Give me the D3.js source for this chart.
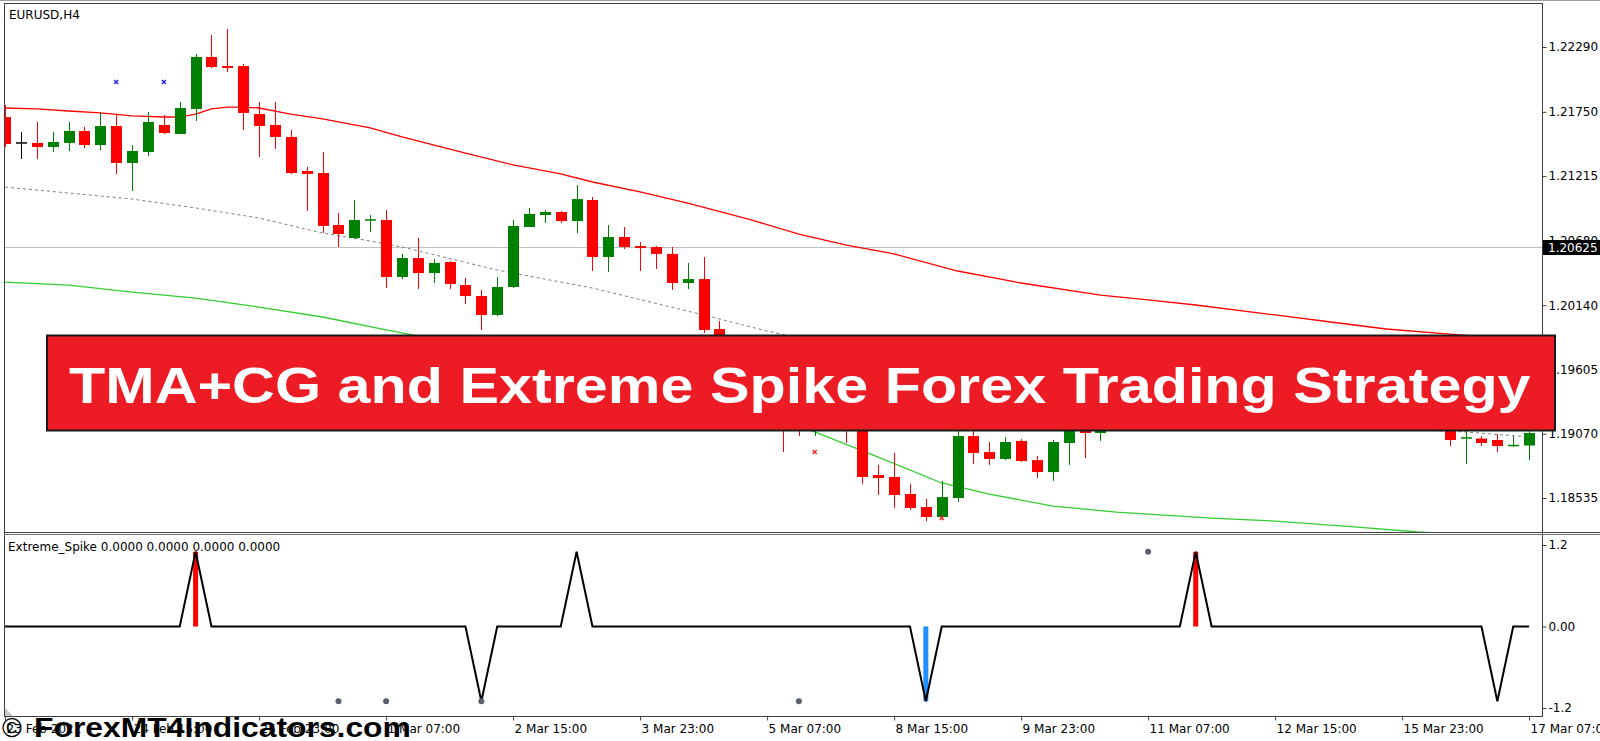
<!DOCTYPE html>
<html><head><meta charset="utf-8">
<script src="https://cdn.jsdelivr.net/npm/d3@7"></script>
<style>html,body{margin:0;padding:0;background:#fff;overflow:hidden}</style>
</head><body>
<svg id="c" width="1600" height="741"></svg>
<script>
// ---------------- DATA ----------------
const symbolTitle = "EURUSD,H4";
const indicatorTitle = "Extreme_Spike 0.0000 0.0000 0.0000 0.0000";
const bannerText = "TMA+CG and Extreme Spike Forex Trading Strategy";
const watermarkSymbol = "©";
const watermarkText = "ForexMT4Indicators.com";

// H4 candles, one entry per bar (bar index = position in array)
const opens = [1.21707,1.21491,1.21491,1.21457,1.21491,1.21591,1.21474,1.21632,1.21324,1.21416,
 1.21641,1.21566,1.21774,1.22207,1.22132,1.22132,1.21732,1.21641,1.21541,1.21258,
 1.21241,1.20808,1.20700,1.20841,1.20850,1.20375,1.20533,1.20408,1.20500,1.20308,
 1.20217,1.20059,1.20292,1.20791,1.20891,1.20916,1.20841,1.21016,1.20542,1.20708,
 1.20633,1.20625,1.20567,1.20325,1.20358,1.19942,1.19809,1.19517,1.19642,1.19351,
 1.19201,1.19143,1.19268,1.19309,1.19118,1.18726,1.18710,1.18568,1.18460,1.18377,
 1.18535,1.19051,1.18918,1.18860,1.19010,1.18851,1.18751,1.18993,1.19184,1.19076,
 1.19143,1.19260,1.19420,1.19360,1.19600,1.19720,1.19620,1.19490,1.19560,1.19410,
 1.19340,1.19420,1.19390,1.19480,1.19360,1.19280,1.19340,1.19250,1.19190,1.19240,
 1.19180,1.19093,1.19026,1.19030,1.19018,1.18965,1.18972];
const highs = [1.21807,1.21582,1.21666,1.21582,1.21666,1.21624,1.21749,1.21732,1.21474,1.21749,
 1.21724,1.21832,1.22232,1.22390,1.22440,1.22148,1.21832,1.21832,1.21599,1.21291,
 1.21416,1.20908,1.21016,1.20891,1.20933,1.20567,1.20700,1.20525,1.20508,1.20367,
 1.20267,1.20375,1.20850,1.20950,1.20933,1.20925,1.21141,1.21041,1.20808,1.20791,
 1.20666,1.20633,1.20625,1.20492,1.20542,1.20009,1.19867,1.19684,1.19701,1.19393,
 1.19309,1.19351,1.19334,1.19368,1.19184,1.18810,1.18910,1.18652,1.18527,1.18677,
 1.19143,1.19143,1.19001,1.19043,1.19026,1.18885,1.19018,1.19268,1.19251,1.19226,
 1.19300,1.19480,1.19500,1.19640,1.19780,1.19870,1.19680,1.19600,1.19620,1.19470,
 1.19450,1.19480,1.19520,1.19540,1.19410,1.19380,1.19390,1.19300,1.19290,1.19280,
 1.19230,1.19150,1.19093,1.19051,1.19068,1.19051,1.19093];
const lows = [1.21457,1.21357,1.21357,1.21416,1.21424,1.21449,1.21432,1.21233,1.21091,1.21382,
 1.21566,1.21566,1.21674,1.22115,1.22082,1.21599,1.21374,1.21441,1.21233,1.20925,
 1.20741,1.20625,1.20691,1.20750,1.20283,1.20358,1.20275,1.20325,1.20275,1.20150,
 1.19934,1.20050,1.20283,1.20791,1.20825,1.20825,1.20741,1.20425,1.20417,1.20608,
 1.20425,1.20442,1.20267,1.20275,1.19909,1.19751,1.19476,1.19418,1.19184,1.18918,
 1.19051,1.19051,1.19118,1.18993,1.18652,1.18560,1.18452,1.18435,1.18343,1.18377,
 1.18502,1.18818,1.18810,1.18851,1.18835,1.18701,1.18677,1.18810,1.18868,1.19010,
 1.19110,1.19220,1.19330,1.19340,1.19560,1.19580,1.19450,1.19420,1.19380,1.19300,
 1.19310,1.19360,1.19350,1.19330,1.19250,1.19240,1.19220,1.19160,1.19170,1.19150,
 1.19120,1.18968,1.18818,1.18968,1.18918,1.18960,1.18851];
const closes = [1.21482,1.21491,1.21457,1.21499,1.21591,1.21474,1.21632,1.21324,1.21424,1.21666,
 1.21574,1.21782,1.22207,1.22123,1.22115,1.21741,1.21632,1.21541,1.21241,1.21233,
 1.20800,1.20733,1.20850,1.20850,1.20375,1.20533,1.20408,1.20492,1.20317,1.20217,
 1.20059,1.20292,1.20800,1.20900,1.20916,1.20841,1.21024,1.20542,1.20708,1.20625,
 1.20616,1.20567,1.20325,1.20358,1.19934,1.19809,1.19517,1.19642,1.19351,1.19143,
 1.19151,1.19268,1.19184,1.19118,1.18710,1.18701,1.18560,1.18452,1.18377,1.18543,
 1.19051,1.18910,1.18860,1.19001,1.18843,1.18751,1.19001,1.19184,1.19076,1.19143,
 1.19260,1.19420,1.19360,1.19600,1.19720,1.19620,1.19490,1.19560,1.19410,1.19340,
 1.19420,1.19390,1.19480,1.19360,1.19280,1.19340,1.19250,1.19190,1.19240,1.19180,
 1.19140,1.19018,1.19035,1.18993,1.18968,1.18972,1.19076];

// TMA+CG bands: [bar index, price]
const tmaUpper = [[0,1.21782],[2,1.21774],[4,1.21757],[6,1.21741],[8,1.21716],[10,1.21707],[11,1.21707],
 [12,1.21732],[13,1.21774],[14,1.21790],[15,1.21790],[16,1.21782],[17,1.21757],[18,1.21732],[20,1.21691],
 [23,1.21616],[25,1.21541],[29,1.21407],[32,1.21308],[35,1.21233],[37,1.21166],[40,1.21083],[43,1.20991],
 [47,1.20850],[50,1.20733],[53,1.20641],[56,1.20567],[60,1.20425],[64,1.20325],[69,1.20225],[72,1.20184],
 [75,1.20142],[80,1.20059],[84,1.19992],[87,1.19942],[91,1.19900],[96,1.19850]];
const tmaCenter = [[0,1.21124],[4,1.21074],[8,1.21024],[12,1.20950],[16,1.20866],[20,1.20741],[23,1.20675],
 [25,1.20625],[31,1.20433],[37,1.20283],[44,1.20059],[48,1.19925],[55,1.19726],[62,1.19534],[70,1.19351],
 [78,1.19209],[86,1.19118],[92,1.19085],[96,1.19043]];
const tmaLower = [[0,1.20333],[4,1.20308],[8,1.20250],[12,1.20200],[16,1.20125],[20,1.20042],[24,1.19934],
 [26,1.19884],[35,1.19601],[45,1.19309],[51,1.19085],[55,1.18876],[59,1.18660],[62,1.18568],[66,1.18468],
 [70,1.18418],[76,1.18368],[80,1.18343],[85,1.18294],[89,1.18252],[96,1.18202]];

// signal crosses on the price chart: [bar index, price]
const buySignals = [[7,1.21999],[10,1.21999]];
const sellSignals = [[51,1.18918],[59,1.18368]];

const currentPrice = 1.20625;
const priceTicks = [1.22290,1.21750,1.21215,1.20680,1.20140,1.19605,1.19070,1.18535];

// Extreme_Spike sub-window
const spikeValues = [0,0,0,0,0,0,0,0,0,0,
 0,0,1.1,0,0,0,0,0,0,0,
 0,0,0,0,0,0,0,0,0,0,
 -1.1,0,0,0,0,0,1.1,0,0,0,
 0,0,0,0,0,0,0,0,0,0,
 0,0,0,0,0,0,0,0,-1.1,0,
 0,0,0,0,0,0,0,0,0,0,
 0,0,0,0,0,1.1,0,0,0,0,
 0,0,0,0,0,0,0,0,0,0,
 0,0,0,0,-1.1,0,0];
const histIndex = [12,75,58];
const histValue = [1.1,1.1,-1.1];
const dotIndex = [21,24,30,50,72];
const dotValue = [-1.1,-1.1,-1.1,-1.1,1.1];
const spikeTicks = [1.2,0,-1.2];
const spikeTickLabels = ["1.2","0.00","-1.2"];

const timeTickIndex = [0,8,16,24,32,40,48,56,64,72,80,88,96];
const timeLabels = ["23 Feb 2021","24 Feb 15:00","25 Feb 23:00","1 Mar 07:00","2 Mar 15:00","3 Mar 23:00",
 "5 Mar 07:00","8 Mar 15:00","9 Mar 23:00","11 Mar 07:00","12 Mar 15:00","15 Mar 23:00","17 Mar 07:00"];

// ---------------- DRAW ----------------
const W = 1600, H = 741;
const FONT = "'DejaVu Sans', Verdana, sans-serif";
const svg = d3.select('#c');
svg.append('rect').attr('width', W).attr('height', H).attr('fill', '#fff');

const x = d3.scaleLinear().domain([0, 96]).range([5.1, 1529.1]);
const y = d3.scaleLinear().domain([1.18252, 1.22648]).range([532, 4]);
const yi = d3.scaleLinear().domain([-1.2, 1.2]).range([708, 545]);

const defs = svg.append('defs');
defs.append('clipPath').attr('id', 'mainClip').append('rect')
  .attr('x', 5).attr('y', 4).attr('width', 1537).attr('height', 528);
defs.append('clipPath').attr('id', 'subClip').append('rect')
  .attr('x', 5).attr('y', 536).attr('width', 1537).attr('height', 180);

const main = svg.append('g').attr('clip-path', 'url(#mainClip)');

// current price line
main.append('line')
  .attr('x1', 5).attr('x2', 1542)
  .attr('y1', Math.round(y(currentPrice)) + 0.5).attr('y2', Math.round(y(currentPrice)) + 0.5)
  .attr('stroke', '#c0c0c0').attr('stroke-width', 1);

const bandLine = d3.line().x(d => x(d[0])).y(d => y(d[1]));
main.append('path').datum(tmaLower).attr('d', bandLine)
  .attr('fill', 'none').attr('stroke', '#32cd32').attr('stroke-width', 1.3);
main.append('path').datum(tmaCenter).attr('d', bandLine)
  .attr('fill', 'none').attr('stroke', '#808080').attr('stroke-width', 1).attr('stroke-dasharray', '3,3');
main.append('path').datum(tmaUpper).attr('d', bandLine)
  .attr('fill', 'none').attr('stroke', '#ff0000').attr('stroke-width', 1.3);

const candles = opens.map((o, i) => ({ i, o, h: highs[i], l: lows[i], c: closes[i] }));
const colorOf = d => d.c > d.o ? '#008000' : (d.c < d.o ? '#ff0000' : '#000000');
const cg = main.append('g');
cg.selectAll('line.wick').data(candles).join('line').attr('class', 'wick')
  .attr('x1', d => Math.round(x(d.i)) + 0.5).attr('x2', d => Math.round(x(d.i)) + 0.5)
  .attr('y1', d => y(d.h)).attr('y2', d => y(d.l))
  .attr('stroke', colorOf).attr('stroke-width', 1);
cg.selectAll('rect.body').data(candles).join('rect').attr('class', 'body')
  .attr('x', d => Math.round(x(d.i)) - 5)
  .attr('width', 11)
  .attr('y', d => Math.min(y(d.o), y(d.c)) - (Math.abs(y(d.o) - y(d.c)) < 1.5 ? 0.75 : 0))
  .attr('height', d => Math.max(Math.abs(y(d.o) - y(d.c)), 1.5))
  .attr('fill', colorOf);

function crossPath(cx, cy, s) {
  return `M${cx - s},${cy - s}L${cx + s},${cy + s}M${cx - s},${cy + s}L${cx + s},${cy - s}`;
}
main.selectAll('path.buy').data(buySignals).join('path').attr('class', 'buy')
  .attr('d', d => crossPath(x(d[0]), y(d[1]), 2))
  .attr('stroke', '#2020ff').attr('stroke-width', 1.4).attr('fill', 'none');
main.selectAll('path.sell').data(sellSignals).join('path').attr('class', 'sell')
  .attr('d', d => crossPath(x(d[0]), y(d[1]), 2))
  .attr('stroke', '#ff2020').attr('stroke-width', 1.4).attr('fill', 'none');

// symbol title
svg.append('text').attr('x', 9).attr('y', 19).text(symbolTitle)
  .attr('font-family', FONT).attr('font-size', 12).attr('fill', '#000');

// price axis
const pAxis = d3.axisRight(y).tickValues(priceTicks).tickFormat(d3.format('.5f')).tickSize(4).tickPadding(2);
const pg = svg.append('g').attr('transform', 'translate(1542.5,0)').call(pAxis);
pg.select('.domain').remove();
pg.selectAll('text').attr('font-family', FONT).attr('font-size', 12).attr('fill', '#000');
pg.selectAll('line').attr('stroke', '#404040');

// current price box
const cpY = Math.round(y(currentPrice));
svg.append('rect').attr('x', 1543).attr('y', cpY - 7).attr('width', 57).attr('height', 15).attr('fill', '#000');
svg.append('text').attr('x', 1548).attr('y', cpY + 4.5).text(d3.format('.5f')(currentPrice))
  .attr('font-family', FONT).attr('font-size', 12).attr('fill', '#fff');

// ---- sub window ----
const sub = svg.append('g').attr('clip-path', 'url(#subClip)');
sub.selectAll('rect.hist').data(histIndex.map((d, k) => [d, histValue[k]])).join('rect').attr('class', 'hist')
  .attr('x', d => x(d[0]) - 2.5).attr('width', 5)
  .attr('y', d => Math.min(yi(0), yi(d[1]))).attr('height', d => Math.abs(yi(d[1]) - yi(0)))
  .attr('fill', d => d[1] > 0 ? '#ff0000' : '#1e90ff');
sub.append('path').datum(spikeValues)
  .attr('d', d3.line().x((d, i) => x(i)).y(d => yi(d)))
  .attr('fill', 'none').attr('stroke', '#000').attr('stroke-width', 2);
sub.selectAll('circle.dot').data(dotIndex.map((d, k) => [d, dotValue[k]])).join('circle').attr('class', 'dot')
  .attr('cx', d => x(d[0])).attr('cy', d => yi(d[1])).attr('r', 3).attr('fill', '#5a5f6a');

svg.append('text').attr('x', 8).attr('y', 551).text(indicatorTitle)
  .attr('font-family', FONT).attr('font-size', 12).attr('fill', '#000');

const sAxis = d3.axisRight(yi).tickValues(spikeTicks).tickFormat((d, k) => spikeTickLabels[k]).tickSize(4).tickPadding(2);
const sg = svg.append('g').attr('transform', 'translate(1542.5,0)').call(sAxis);
sg.select('.domain').remove();
sg.selectAll('text').attr('font-family', FONT).attr('font-size', 12).attr('fill', '#000');
sg.selectAll('line').attr('stroke', '#404040');

// small triangle marker bottom-left of sub window
svg.append('path').attr('d', 'M5,708L5,716L13,716Z').attr('fill', '#c8c8c8');

// ---- frames ----
const frame = svg.append('g').attr('stroke', '#404040').attr('stroke-width', 1);
frame.append('line').attr('x1', 0).attr('x2', 1600).attr('y1', 0.5).attr('y2', 0.5).attr('stroke', '#a0a0a0');
frame.append('line').attr('x1', 4).attr('x2', 1542.5).attr('y1', 3.5).attr('y2', 3.5);
frame.append('line').attr('x1', 4.5).attr('x2', 4.5).attr('y1', 3).attr('y2', 717);
frame.append('line').attr('x1', 1542.5).attr('x2', 1542.5).attr('y1', 3).attr('y2', 717);
frame.append('line').attr('x1', 4).attr('x2', 1600).attr('y1', 532.5).attr('y2', 532.5);
frame.append('line').attr('x1', 4).attr('x2', 1600).attr('y1', 534.5).attr('y2', 534.5).attr('stroke', '#707070');
frame.append('line').attr('x1', 4).attr('x2', 1542.5).attr('y1', 716.5).attr('y2', 716.5);

// time axis
const tAxis = d3.axisBottom(x).tickValues(timeTickIndex).tickFormat((d, k) => timeLabels[k]).tickSize(4).tickPadding(4);
const tg = svg.append('g').attr('transform', 'translate(0,716.5)').call(tAxis);
tg.select('.domain').remove();
tg.selectAll('line').attr('stroke', '#404040');
tg.selectAll('text').attr('font-family', FONT).attr('font-size', 12).attr('fill', '#000')
  .attr('text-anchor', 'start').attr('x', 1);

// ---- banner ----
svg.append('rect').attr('x', 47).attr('y', 335.5).attr('width', 1508).attr('height', 95)
  .attr('fill', '#ed1c24').attr('stroke', '#1a1a1a').attr('stroke-width', 2);
const bt = svg.append('text').text(bannerText)
  .attr('font-family', "'Liberation Sans', Arial, sans-serif").attr('font-weight', 'bold')
  .attr('font-size', 50).attr('fill', '#fff');
{
  const w = bt.node().getComputedTextLength();
  bt.attr('transform', `translate(69,403) scale(${1462 / w},1)`);
}

// ---- watermark ----
svg.append('text').attr('x', 2).attr('y', 737).text(watermarkSymbol)
  .attr('font-family', "'Liberation Sans', Arial, sans-serif").attr('font-size', 27).attr('fill', '#000');
const wm = svg.append('text').text(watermarkText)
  .attr('font-family', "'Liberation Sans', Arial, sans-serif").attr('font-weight', 'bold')
  .attr('font-size', 27).attr('fill', '#000');
{
  const w = wm.node().getComputedTextLength();
  wm.attr('transform', `translate(34,737) scale(${377 / w},1)`);
}
</script>
</body></html>
